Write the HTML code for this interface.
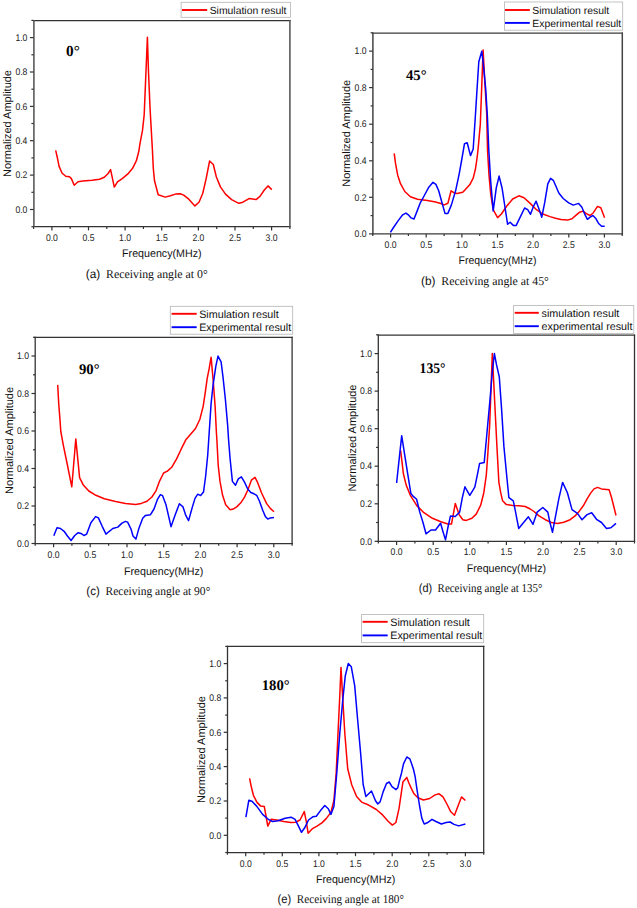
<!DOCTYPE html>
<html><head><meta charset="utf-8"><style>
html,body{margin:0;padding:0;background:#fff;}
body{width:637px;height:908px;overflow:hidden;position:relative;}
svg{position:absolute;left:0;top:0;text-rendering:geometricPrecision;}
.tk{font-family:"Liberation Sans", sans-serif;font-size:9.7px;fill:#222;}
.at{font-family:"Liberation Sans", sans-serif;font-size:11px;fill:#111;}
.lg{font-family:"Liberation Sans", sans-serif;font-size:10.4px;fill:#111;}
.ann{font-family:"Liberation Serif", serif;font-size:14.7px;font-weight:bold;fill:#000;}
.cp{font-family:"Liberation Serif", serif;font-size:12px;fill:#111;}
.cps{font-family:"Liberation Sans", sans-serif;font-size:12px;}
</style></head><body>
<svg width="637" height="908" viewBox="0 0 637 908">
<g>
<polyline points="55.7,150.4 57.2,157 59.1,166.4 62,173 65.7,176.2 69.5,176.7 71.4,178.6 74.2,185.2 78,181.8 82.7,181.1 92.1,180.3 99.6,179.2 104.3,177.3 108.1,173.5 110.6,169.6 114.3,187.1 117.5,181.8 122.2,178.6 127.9,173.9 132.6,168.3 136.4,160.7 138.8,151.3 140.1,142.8 142.5,130.4 144.2,114.6 147.4,37.3 148.4,69.6 150.1,109.3 152.4,149.6 153.3,168.3 154.5,180.8 158.2,194.7 165.3,197.1 170.4,195.7 175.5,194.1 180.2,193.7 183.7,195.1 188.8,199.2 194.9,205.9 199,202.2 202.7,193.5 206.1,178.8 209.6,161 213.3,164.5 216.3,176.7 220.4,186.9 225.5,194.1 231.6,199.6 238.8,203.3 242.9,202.2 249,198.6 256.1,199.6 260.2,196.1 264.3,190 268,185.9 271.8,189.6" fill="none" stroke="#ff0000" stroke-width="1.5" stroke-linejoin="round" stroke-linecap="butt"/>
<line x1="33.1" y1="20.5" x2="290.7" y2="20.5" stroke="#333333" stroke-width="1.25"/>
<line x1="33.1" y1="226.5" x2="290.7" y2="226.5" stroke="#333333" stroke-width="1.25"/>
<line x1="33.9" y1="19.9" x2="33.9" y2="227.1" stroke="#5a5a5a" stroke-width="1.6"/>
<line x1="289.9" y1="19.9" x2="289.9" y2="227.1" stroke="#5a5a5a" stroke-width="1.6"/>
<line x1="33.6" y1="226.7" x2="33.6" y2="228.9" stroke="#333333" stroke-width="1.2"/>
<line x1="51.9" y1="226.7" x2="51.9" y2="230.4" stroke="#333333" stroke-width="1.2"/>
<text transform="translate(51.9,240.7) scale(0.89,1)" text-anchor="middle" class="tk">0.0</text>
<line x1="70.2" y1="226.7" x2="70.2" y2="228.9" stroke="#333333" stroke-width="1.2"/>
<line x1="88.5" y1="226.7" x2="88.5" y2="230.4" stroke="#333333" stroke-width="1.2"/>
<text transform="translate(88.5,240.7) scale(0.89,1)" text-anchor="middle" class="tk">0.5</text>
<line x1="106.8" y1="226.7" x2="106.8" y2="228.9" stroke="#333333" stroke-width="1.2"/>
<line x1="125.1" y1="226.7" x2="125.1" y2="230.4" stroke="#333333" stroke-width="1.2"/>
<text transform="translate(125.1,240.7) scale(0.89,1)" text-anchor="middle" class="tk">1.0</text>
<line x1="143.4" y1="226.7" x2="143.4" y2="228.9" stroke="#333333" stroke-width="1.2"/>
<line x1="161.7" y1="226.7" x2="161.7" y2="230.4" stroke="#333333" stroke-width="1.2"/>
<text transform="translate(161.7,240.7) scale(0.89,1)" text-anchor="middle" class="tk">1.5</text>
<line x1="180.1" y1="226.7" x2="180.1" y2="228.9" stroke="#333333" stroke-width="1.2"/>
<line x1="198.4" y1="226.7" x2="198.4" y2="230.4" stroke="#333333" stroke-width="1.2"/>
<text transform="translate(198.4,240.7) scale(0.89,1)" text-anchor="middle" class="tk">2.0</text>
<line x1="216.7" y1="226.7" x2="216.7" y2="228.9" stroke="#333333" stroke-width="1.2"/>
<line x1="235" y1="226.7" x2="235" y2="230.4" stroke="#333333" stroke-width="1.2"/>
<text transform="translate(235,240.7) scale(0.89,1)" text-anchor="middle" class="tk">2.5</text>
<line x1="253.3" y1="226.7" x2="253.3" y2="228.9" stroke="#333333" stroke-width="1.2"/>
<line x1="271.6" y1="226.7" x2="271.6" y2="230.4" stroke="#333333" stroke-width="1.2"/>
<text transform="translate(271.6,240.7) scale(0.89,1)" text-anchor="middle" class="tk">3.0</text>
<line x1="289.9" y1="226.7" x2="289.9" y2="228.9" stroke="#333333" stroke-width="1.2"/>
<line x1="33.6" y1="226.7" x2="31.4" y2="226.7" stroke="#333333" stroke-width="1.2"/>
<line x1="33.6" y1="209.5" x2="29.9" y2="209.5" stroke="#333333" stroke-width="1.2"/>
<text transform="translate(27.4,212.7) scale(0.89,1)" text-anchor="end" class="tk">0.0</text>
<line x1="33.6" y1="192.3" x2="31.4" y2="192.3" stroke="#333333" stroke-width="1.2"/>
<line x1="33.6" y1="175.1" x2="29.9" y2="175.1" stroke="#333333" stroke-width="1.2"/>
<text transform="translate(27.4,178.3) scale(0.89,1)" text-anchor="end" class="tk">0.2</text>
<line x1="33.6" y1="157.9" x2="31.4" y2="157.9" stroke="#333333" stroke-width="1.2"/>
<line x1="33.6" y1="140.7" x2="29.9" y2="140.7" stroke="#333333" stroke-width="1.2"/>
<text transform="translate(27.4,143.9) scale(0.89,1)" text-anchor="end" class="tk">0.4</text>
<line x1="33.6" y1="123.5" x2="31.4" y2="123.5" stroke="#333333" stroke-width="1.2"/>
<line x1="33.6" y1="106.4" x2="29.9" y2="106.4" stroke="#333333" stroke-width="1.2"/>
<text transform="translate(27.4,109.6) scale(0.89,1)" text-anchor="end" class="tk">0.6</text>
<line x1="33.6" y1="89.2" x2="31.4" y2="89.2" stroke="#333333" stroke-width="1.2"/>
<line x1="33.6" y1="72" x2="29.9" y2="72" stroke="#333333" stroke-width="1.2"/>
<text transform="translate(27.4,75.2) scale(0.89,1)" text-anchor="end" class="tk">0.8</text>
<line x1="33.6" y1="54.8" x2="31.4" y2="54.8" stroke="#333333" stroke-width="1.2"/>
<line x1="33.6" y1="37.6" x2="29.9" y2="37.6" stroke="#333333" stroke-width="1.2"/>
<text transform="translate(27.4,40.8) scale(0.89,1)" text-anchor="end" class="tk">1.0</text>
<line x1="33.6" y1="20.4" x2="31.4" y2="20.4" stroke="#333333" stroke-width="1.2"/>
<text transform="translate(11.1,123.5) rotate(-90)" text-anchor="middle" class="at">Normalized Amplitude</text>
<text transform="translate(161.8,257.1) scale(0.97,1)" text-anchor="middle" class="at">Frequency(MHz)</text>
<text transform="translate(66,56.2) scale(1,1)" class="ann" style="font-size:15.3px">0°</text>
<rect x="181.1" y="2.3" width="109.3" height="15" fill="#fff" stroke="#b4b4b4" stroke-width="0.8"/>
<line x1="182" y1="10" x2="207.2" y2="10" stroke="#ff0000" stroke-width="1.9"/>
<text x="209.7" y="13.7" class="lg" style="font-size:10.4px">Simulation result</text>
<text transform="translate(85.7,278.1) scale(0.985,1)" class="cp"><tspan class="cps">(a)</tspan><tspan dx="6">Receiving angle at 0°</tspan></text>
</g>
<g>
<polyline points="394.2,153.3 395.6,163.9 397.7,175.2 400.5,183.7 404.8,191.5 410.4,196.7 417.5,199.2 427.4,200.6 434.4,201.8 440.1,203.2 444.3,204.9 447.9,203.2 451.1,190.8 454.2,192.9 457.1,193.6 462.7,192.2 465.3,189.6 469.7,184.8 473.2,178.1 475.4,169.3 476.7,160.5 477.6,153.5 478.5,144.7 479.4,134.1 480.3,124.4 481.2,101 483.1,49.9 484.7,79.6 486.7,114 487.5,150 489,175.1 490.7,194 493.2,209.7 497.6,217.6 501.4,214 506.4,206.5 512.7,199 518.9,195.8 524,197.7 530.2,203.4 536.5,209.7 542.8,214 550,216.6 555.5,218.2 561,219.6 567.6,220.1 572,218.8 576.4,214.9 579.7,212.2 583,211.1 586.3,213.6 590.1,215.5 593.4,212.7 597.5,206.4 600.8,207.8 604.6,217.7" fill="none" stroke="#ff0000" stroke-width="1.5" stroke-linejoin="round" stroke-linecap="butt"/>
<polyline points="390.4,232.4 393.5,227.5 398.4,220.4 402.7,214.8 405.9,213.1 408.3,214.8 411.1,217.9 414,219 416.8,211.9 420.3,202.8 424.6,195 428.8,187.2 433,182.3 435.9,184.4 438.7,190.8 442.2,203.5 445,213.4 447.9,213.4 451.4,204.9 455.6,190.8 459.2,173.8 462.2,157 464.5,143.7 467.2,142.8 470.5,155.6 473.2,149 475.5,114 476.8,92.9 478.8,61.8 481.8,51.2 483.4,65.1 485.7,88.9 487.4,116.6 488.8,150 490.7,181.4 493.2,210.9 496.3,187.7 499.1,176.1 502,187.7 504.5,204 507.6,224.3 510.1,222.2 513.3,225.4 516.2,225.4 520.2,217.2 524.6,208 527.7,209.7 530.5,214.3 533.4,206.5 536.1,201.2 539,209 541.8,217.2 544.7,202.7 547.8,183.9 550.6,178.3 553.3,180.3 555.5,185.3 558.8,193 563.2,198.5 568.7,202.9 573.3,205.1 578.6,203.4 581.9,207.3 584.6,213.8 587.4,219.3 590.1,217.1 592.9,215.5 595.6,218.2 598.4,223.2 601.6,226.2 604.7,226.2" fill="none" stroke="#0000ff" stroke-width="1.5" stroke-linejoin="round" stroke-linecap="butt"/>
<line x1="372.1" y1="33.1" x2="623" y2="33.1" stroke="#3a3a3a" stroke-width="1.25"/>
<line x1="372.1" y1="233.9" x2="623" y2="233.9" stroke="#3a3a3a" stroke-width="1.25"/>
<line x1="372.9" y1="32.5" x2="372.9" y2="234.5" stroke="#444" stroke-width="1.5"/>
<line x1="622.3" y1="32.5" x2="622.3" y2="234.5" stroke="#444" stroke-width="1.5"/>
<line x1="372.8" y1="233.9" x2="372.8" y2="236.1" stroke="#333333" stroke-width="1.2"/>
<line x1="390.6" y1="233.9" x2="390.6" y2="237.6" stroke="#333333" stroke-width="1.2"/>
<text transform="translate(390.6,247.9) scale(0.89,1)" text-anchor="middle" class="tk">0.0</text>
<line x1="408.4" y1="233.9" x2="408.4" y2="236.1" stroke="#333333" stroke-width="1.2"/>
<line x1="426.2" y1="233.9" x2="426.2" y2="237.6" stroke="#333333" stroke-width="1.2"/>
<text transform="translate(426.2,247.9) scale(0.89,1)" text-anchor="middle" class="tk">0.5</text>
<line x1="444.1" y1="233.9" x2="444.1" y2="236.1" stroke="#333333" stroke-width="1.2"/>
<line x1="461.9" y1="233.9" x2="461.9" y2="237.6" stroke="#333333" stroke-width="1.2"/>
<text transform="translate(461.9,247.9) scale(0.89,1)" text-anchor="middle" class="tk">1.0</text>
<line x1="479.7" y1="233.9" x2="479.7" y2="236.1" stroke="#333333" stroke-width="1.2"/>
<line x1="497.5" y1="233.9" x2="497.5" y2="237.6" stroke="#333333" stroke-width="1.2"/>
<text transform="translate(497.5,247.9) scale(0.89,1)" text-anchor="middle" class="tk">1.5</text>
<line x1="515.3" y1="233.9" x2="515.3" y2="236.1" stroke="#333333" stroke-width="1.2"/>
<line x1="533.1" y1="233.9" x2="533.1" y2="237.6" stroke="#333333" stroke-width="1.2"/>
<text transform="translate(533.1,247.9) scale(0.89,1)" text-anchor="middle" class="tk">2.0</text>
<line x1="550.9" y1="233.9" x2="550.9" y2="236.1" stroke="#333333" stroke-width="1.2"/>
<line x1="568.8" y1="233.9" x2="568.8" y2="237.6" stroke="#333333" stroke-width="1.2"/>
<text transform="translate(568.8,247.9) scale(0.89,1)" text-anchor="middle" class="tk">2.5</text>
<line x1="586.6" y1="233.9" x2="586.6" y2="236.1" stroke="#333333" stroke-width="1.2"/>
<line x1="604.4" y1="233.9" x2="604.4" y2="237.6" stroke="#333333" stroke-width="1.2"/>
<text transform="translate(604.4,247.9) scale(0.89,1)" text-anchor="middle" class="tk">3.0</text>
<line x1="622.2" y1="233.9" x2="622.2" y2="236.1" stroke="#333333" stroke-width="1.2"/>
<line x1="372.8" y1="233.9" x2="369.1" y2="233.9" stroke="#333333" stroke-width="1.2"/>
<text transform="translate(366.6,237.1) scale(0.89,1)" text-anchor="end" class="tk">0.0</text>
<line x1="372.8" y1="215.6" x2="370.6" y2="215.6" stroke="#333333" stroke-width="1.2"/>
<line x1="372.8" y1="197.3" x2="369.1" y2="197.3" stroke="#333333" stroke-width="1.2"/>
<text transform="translate(366.6,200.5) scale(0.89,1)" text-anchor="end" class="tk">0.2</text>
<line x1="372.8" y1="179.1" x2="370.6" y2="179.1" stroke="#333333" stroke-width="1.2"/>
<line x1="372.8" y1="160.8" x2="369.1" y2="160.8" stroke="#333333" stroke-width="1.2"/>
<text transform="translate(366.6,164) scale(0.89,1)" text-anchor="end" class="tk">0.4</text>
<line x1="372.8" y1="142.5" x2="370.6" y2="142.5" stroke="#333333" stroke-width="1.2"/>
<line x1="372.8" y1="124.2" x2="369.1" y2="124.2" stroke="#333333" stroke-width="1.2"/>
<text transform="translate(366.6,127.4) scale(0.89,1)" text-anchor="end" class="tk">0.6</text>
<line x1="372.8" y1="105.9" x2="370.6" y2="105.9" stroke="#333333" stroke-width="1.2"/>
<line x1="372.8" y1="87.6" x2="369.1" y2="87.6" stroke="#333333" stroke-width="1.2"/>
<text transform="translate(366.6,90.8) scale(0.89,1)" text-anchor="end" class="tk">0.8</text>
<line x1="372.8" y1="69.4" x2="370.6" y2="69.4" stroke="#333333" stroke-width="1.2"/>
<line x1="372.8" y1="51.1" x2="369.1" y2="51.1" stroke="#333333" stroke-width="1.2"/>
<text transform="translate(366.6,54.3) scale(0.89,1)" text-anchor="end" class="tk">1.0</text>
<line x1="372.8" y1="32.8" x2="370.6" y2="32.8" stroke="#333333" stroke-width="1.2"/>
<text transform="translate(350.3,133.3) rotate(-90)" text-anchor="middle" class="at">Normalized Amplitude</text>
<text transform="translate(497.5,263.6) scale(0.95,1)" text-anchor="middle" class="at">Frequency(MHz)</text>
<text transform="translate(406,79.7) scale(1,1)" class="ann" style="font-size:14.7px">45°</text>
<rect x="504.4" y="2" width="118.3" height="28.2" fill="#fff" stroke="#b4b4b4" stroke-width="0.8"/>
<line x1="505" y1="10" x2="529.8" y2="10" stroke="#ff0000" stroke-width="1.9"/>
<text x="532.3" y="13.7" class="lg" style="font-size:10.4px">Simulation result</text>
<line x1="505" y1="22.9" x2="529.8" y2="22.9" stroke="#0000ff" stroke-width="1.9"/>
<text x="532.3" y="26.6" class="lg" style="font-size:10.4px">Experimental result</text>
<text transform="translate(421,284.5) scale(0.985,1)" class="cp"><tspan class="cps">(b)</tspan><tspan dx="6">Receiving angle at 45°</tspan></text>
</g>
<g>
<polyline points="57.7,384.9 58.7,403.3 59.8,417.4 60.8,431.5 63.4,445.6 67.2,464 71.8,486.8 75.8,438.9 79.6,477.6 83.1,484.7 88.8,491 95.9,495.3 104.3,498.8 115.6,501.6 125.5,503.5 135.7,504.5 141.3,503.4 147,501.2 151.9,497 156.1,490.6 159.7,480.8 163.6,473 167.4,471.1 171.7,467.3 176.6,458.9 180.9,449.7 185.8,439.8 190.8,434.1 195.5,428.5 199.9,419.3 203.2,406.1 205.2,392.9 207.2,378.3 209.2,368.4 211.1,357.2 213.1,379.6 215.1,406.1 216.4,432.5 216.9,440 218.2,465.1 220,481.4 222.6,495.3 225.7,504.7 230.1,509.7 233.2,509.1 237,506.6 240.8,502.8 244.5,497.1 247.7,490.2 251.4,480.2 255,477.4 257.7,482.7 261.5,492.7 266.5,503.4 270.3,508.4 274,511.8" fill="none" stroke="#ff0000" stroke-width="1.5" stroke-linejoin="round" stroke-linecap="butt"/>
<polyline points="53.8,535.8 57,527.8 60.5,528.5 64.1,531.3 67.6,536.2 71.1,540.5 74.7,535.5 78.2,532.7 81,533.4 83.9,535.5 86.7,534.1 90.9,522.8 95.6,516.6 98.4,517.9 102.2,526.3 106,534.1 109.3,531.3 112.8,528.5 117.8,527.1 122,523.1 125.5,521.4 127.6,522.1 131,529 133,536 135.9,539.1 139.2,527.4 142.7,518.2 145.5,515.4 150.5,514.7 154,509 157.6,499.1 160.4,494.6 162.5,495.6 166,504.8 171,526.7 175.2,514.7 179.4,503.8 183,506.9 185.8,515.4 188.6,520.6 192.2,507.6 195,498.4 197.8,494.2 200.6,495.6 203.5,492.1 205.6,476.5 207.7,455.3 209.2,432.5 211.1,403.4 213.1,384.9 215.8,366.4 218,356.1 221.1,361.8 223,377 225.4,399.5 227.7,425.9 228.6,440 230.1,458.8 232.4,481.4 235.5,485.2 238.3,478.9 241.4,476.8 244.5,482.1 247.7,489 250.8,492.5 254,493.8 256.7,495.3 259.6,501.5 262.7,510.3 265.3,516.4 267.8,519.1 270.3,517.9 274,517.5" fill="none" stroke="#0000ff" stroke-width="1.5" stroke-linejoin="round" stroke-linecap="butt"/>
<line x1="34.6" y1="337.3" x2="292.8" y2="337.3" stroke="#333333" stroke-width="1.25"/>
<line x1="34.6" y1="543.5" x2="292.8" y2="543.5" stroke="#333333" stroke-width="1.25"/>
<line x1="35.2" y1="336.7" x2="35.2" y2="544.1" stroke="#333333" stroke-width="1.3"/>
<line x1="292.1" y1="336.7" x2="292.1" y2="544.1" stroke="#333333" stroke-width="1.3"/>
<line x1="35.2" y1="543.5" x2="35.2" y2="545.7" stroke="#333333" stroke-width="1.2"/>
<line x1="53.6" y1="543.5" x2="53.6" y2="547.2" stroke="#333333" stroke-width="1.2"/>
<text transform="translate(53.6,557.5) scale(0.89,1)" text-anchor="middle" class="tk">0.0</text>
<line x1="71.9" y1="543.5" x2="71.9" y2="545.7" stroke="#333333" stroke-width="1.2"/>
<line x1="90.2" y1="543.5" x2="90.2" y2="547.2" stroke="#333333" stroke-width="1.2"/>
<text transform="translate(90.2,557.5) scale(0.89,1)" text-anchor="middle" class="tk">0.5</text>
<line x1="108.6" y1="543.5" x2="108.6" y2="545.7" stroke="#333333" stroke-width="1.2"/>
<line x1="127" y1="543.5" x2="127" y2="547.2" stroke="#333333" stroke-width="1.2"/>
<text transform="translate(127,557.5) scale(0.89,1)" text-anchor="middle" class="tk">1.0</text>
<line x1="145.3" y1="543.5" x2="145.3" y2="545.7" stroke="#333333" stroke-width="1.2"/>
<line x1="163.7" y1="543.5" x2="163.7" y2="547.2" stroke="#333333" stroke-width="1.2"/>
<text transform="translate(163.7,557.5) scale(0.89,1)" text-anchor="middle" class="tk">1.5</text>
<line x1="182" y1="543.5" x2="182" y2="545.7" stroke="#333333" stroke-width="1.2"/>
<line x1="200.4" y1="543.5" x2="200.4" y2="547.2" stroke="#333333" stroke-width="1.2"/>
<text transform="translate(200.4,557.5) scale(0.89,1)" text-anchor="middle" class="tk">2.0</text>
<line x1="218.7" y1="543.5" x2="218.7" y2="545.7" stroke="#333333" stroke-width="1.2"/>
<line x1="237.1" y1="543.5" x2="237.1" y2="547.2" stroke="#333333" stroke-width="1.2"/>
<text transform="translate(237.1,557.5) scale(0.89,1)" text-anchor="middle" class="tk">2.5</text>
<line x1="255.4" y1="543.5" x2="255.4" y2="545.7" stroke="#333333" stroke-width="1.2"/>
<line x1="273.8" y1="543.5" x2="273.8" y2="547.2" stroke="#333333" stroke-width="1.2"/>
<text transform="translate(273.8,557.5) scale(0.89,1)" text-anchor="middle" class="tk">3.0</text>
<line x1="292.1" y1="543.5" x2="292.1" y2="545.7" stroke="#333333" stroke-width="1.2"/>
<line x1="35.2" y1="543.5" x2="31.5" y2="543.5" stroke="#333333" stroke-width="1.2"/>
<text transform="translate(29,546.7) scale(0.89,1)" text-anchor="end" class="tk">0.0</text>
<line x1="35.2" y1="524.8" x2="33" y2="524.8" stroke="#333333" stroke-width="1.2"/>
<line x1="35.2" y1="506" x2="31.5" y2="506" stroke="#333333" stroke-width="1.2"/>
<text transform="translate(29,509.2) scale(0.89,1)" text-anchor="end" class="tk">0.2</text>
<line x1="35.2" y1="487.3" x2="33" y2="487.3" stroke="#333333" stroke-width="1.2"/>
<line x1="35.2" y1="468.5" x2="31.5" y2="468.5" stroke="#333333" stroke-width="1.2"/>
<text transform="translate(29,471.7) scale(0.89,1)" text-anchor="end" class="tk">0.4</text>
<line x1="35.2" y1="449.8" x2="33" y2="449.8" stroke="#333333" stroke-width="1.2"/>
<line x1="35.2" y1="431" x2="31.5" y2="431" stroke="#333333" stroke-width="1.2"/>
<text transform="translate(29,434.2) scale(0.89,1)" text-anchor="end" class="tk">0.6</text>
<line x1="35.2" y1="412.3" x2="33" y2="412.3" stroke="#333333" stroke-width="1.2"/>
<line x1="35.2" y1="393.5" x2="31.5" y2="393.5" stroke="#333333" stroke-width="1.2"/>
<text transform="translate(29,396.7) scale(0.89,1)" text-anchor="end" class="tk">0.8</text>
<line x1="35.2" y1="374.8" x2="33" y2="374.8" stroke="#333333" stroke-width="1.2"/>
<line x1="35.2" y1="356" x2="31.5" y2="356" stroke="#333333" stroke-width="1.2"/>
<text transform="translate(29,359.2) scale(0.89,1)" text-anchor="end" class="tk">1.0</text>
<line x1="35.2" y1="337.3" x2="33" y2="337.3" stroke="#333333" stroke-width="1.2"/>
<text transform="translate(12.7,440.4) rotate(-90)" text-anchor="middle" class="at">Normalized Amplitude</text>
<text transform="translate(163.7,574.5) scale(0.97,1)" text-anchor="middle" class="at">Frequency(MHz)</text>
<text transform="translate(79,373.8) scale(1,1)" class="ann" style="font-size:14.7px">90°</text>
<rect x="170.3" y="306.3" width="122.4" height="27.9" fill="#fff" stroke="#b4b4b4" stroke-width="0.8"/>
<line x1="171.6" y1="313.8" x2="196.7" y2="313.8" stroke="#ff0000" stroke-width="1.9"/>
<text x="199.2" y="317.5" class="lg" style="font-size:10.75px">Simulation result</text>
<line x1="171.6" y1="327.2" x2="196.7" y2="327.2" stroke="#0000ff" stroke-width="1.9"/>
<text x="199.2" y="330.9" class="lg" style="font-size:10.75px">Experimental result</text>
<text transform="translate(86.3,595) scale(0.96,1)" class="cp"><tspan class="cps">(c)</tspan><tspan dx="6">Receiving angle at 90°</tspan></text>
</g>
<g>
<polyline points="400.6,450.5 402,461.8 403.4,473.8 406.2,485.1 410.5,495.7 416.8,505.6 423.9,512.7 432.4,518.3 440.9,521.8 447.9,524 451.5,524 455.3,503.5 459.2,514.8 462.8,519.7 466.3,520.4 471.9,518.3 476.2,514.1 480.7,505.2 483.8,492.7 486.3,475.1 487.7,455.7 489.7,424.8 492.3,353.6 494.7,401.7 497,448 498.9,482.6 500.7,492.7 502.6,500.8 506.4,504.6 512.7,505.5 519,505.8 525.2,506.5 530.3,509 534,511.5 539,515.9 545.3,519.7 551.3,522.5 557.6,523.4 563.8,522.2 570.1,519.7 575.1,515.9 579.5,510.9 583.3,505.8 587.1,498.9 590.8,492.9 594,488.9 597.5,487.4 601.5,488.9 606.5,489.4 609.1,489.8 611.6,497.7 614.1,507.7 616,515.5" fill="none" stroke="#ff0000" stroke-width="1.5" stroke-linejoin="round" stroke-linecap="butt"/>
<polyline points="396.6,483 401.7,435.7 404.1,451.2 407.7,473.8 410.9,493.6 413.3,496.4 416.6,499.2 419.7,511.9 423.2,523.2 426,533.8 431,530 435.5,530 440.6,523.2 443,531.7 445.5,539.9 447.9,527.5 450.5,515.9 455.3,516.5 459.7,511.9 462.3,497.8 464.9,486.8 469.8,495.3 474.8,487.2 477.3,475.1 479.6,463.4 484.2,462.6 487,432.5 490.1,398.6 492.4,370.9 494.4,353.6 496.5,364.7 499.3,377 501.6,409.4 503.9,446.4 507,478.8 508.9,497.7 513.3,500.8 515.2,510.2 518.7,528.4 523.4,522.8 528.4,516.8 533,524.3 537.2,512.1 542.8,507.5 547.8,512.1 550,522.8 552.5,532.2 555.7,515.3 558.8,498.9 562.6,482.4 567.4,492.7 572,509.6 577.4,513.4 582,519.7 587.1,514.6 591.7,512.7 596.5,519.3 601.5,522.5 606.5,528.4 610.9,527.8 616,523.4" fill="none" stroke="#0000ff" stroke-width="1.5" stroke-linejoin="round" stroke-linecap="butt"/>
<line x1="377.7" y1="335.2" x2="635.1" y2="335.2" stroke="#333333" stroke-width="1.25"/>
<line x1="377.7" y1="541.3" x2="635.1" y2="541.3" stroke="#333333" stroke-width="1.25"/>
<line x1="378.3" y1="334.6" x2="378.3" y2="541.9" stroke="#333333" stroke-width="1.3"/>
<line x1="634.5" y1="334.6" x2="634.5" y2="541.9" stroke="#333333" stroke-width="1.3"/>
<line x1="378.3" y1="541.3" x2="378.3" y2="543.5" stroke="#333333" stroke-width="1.2"/>
<line x1="396.6" y1="541.3" x2="396.6" y2="545" stroke="#333333" stroke-width="1.2"/>
<text transform="translate(396.6,555.3) scale(0.89,1)" text-anchor="middle" class="tk">0.0</text>
<line x1="414.9" y1="541.3" x2="414.9" y2="543.5" stroke="#333333" stroke-width="1.2"/>
<line x1="433.2" y1="541.3" x2="433.2" y2="545" stroke="#333333" stroke-width="1.2"/>
<text transform="translate(433.2,555.3) scale(0.89,1)" text-anchor="middle" class="tk">0.5</text>
<line x1="451.5" y1="541.3" x2="451.5" y2="543.5" stroke="#333333" stroke-width="1.2"/>
<line x1="469.8" y1="541.3" x2="469.8" y2="545" stroke="#333333" stroke-width="1.2"/>
<text transform="translate(469.8,555.3) scale(0.89,1)" text-anchor="middle" class="tk">1.0</text>
<line x1="488.1" y1="541.3" x2="488.1" y2="543.5" stroke="#333333" stroke-width="1.2"/>
<line x1="506.4" y1="541.3" x2="506.4" y2="545" stroke="#333333" stroke-width="1.2"/>
<text transform="translate(506.4,555.3) scale(0.89,1)" text-anchor="middle" class="tk">1.5</text>
<line x1="524.7" y1="541.3" x2="524.7" y2="543.5" stroke="#333333" stroke-width="1.2"/>
<line x1="543" y1="541.3" x2="543" y2="545" stroke="#333333" stroke-width="1.2"/>
<text transform="translate(543,555.3) scale(0.89,1)" text-anchor="middle" class="tk">2.0</text>
<line x1="561.3" y1="541.3" x2="561.3" y2="543.5" stroke="#333333" stroke-width="1.2"/>
<line x1="579.6" y1="541.3" x2="579.6" y2="545" stroke="#333333" stroke-width="1.2"/>
<text transform="translate(579.6,555.3) scale(0.89,1)" text-anchor="middle" class="tk">2.5</text>
<line x1="597.9" y1="541.3" x2="597.9" y2="543.5" stroke="#333333" stroke-width="1.2"/>
<line x1="616.2" y1="541.3" x2="616.2" y2="545" stroke="#333333" stroke-width="1.2"/>
<text transform="translate(616.2,555.3) scale(0.89,1)" text-anchor="middle" class="tk">3.0</text>
<line x1="634.5" y1="541.3" x2="634.5" y2="543.5" stroke="#333333" stroke-width="1.2"/>
<line x1="378.3" y1="541.3" x2="374.6" y2="541.3" stroke="#333333" stroke-width="1.2"/>
<text transform="translate(372.1,544.5) scale(0.89,1)" text-anchor="end" class="tk">0.0</text>
<line x1="378.3" y1="522.5" x2="376.1" y2="522.5" stroke="#333333" stroke-width="1.2"/>
<line x1="378.3" y1="503.8" x2="374.6" y2="503.8" stroke="#333333" stroke-width="1.2"/>
<text transform="translate(372.1,507) scale(0.89,1)" text-anchor="end" class="tk">0.2</text>
<line x1="378.3" y1="485" x2="376.1" y2="485" stroke="#333333" stroke-width="1.2"/>
<line x1="378.3" y1="466.2" x2="374.6" y2="466.2" stroke="#333333" stroke-width="1.2"/>
<text transform="translate(372.1,469.4) scale(0.89,1)" text-anchor="end" class="tk">0.4</text>
<line x1="378.3" y1="447.4" x2="376.1" y2="447.4" stroke="#333333" stroke-width="1.2"/>
<line x1="378.3" y1="428.7" x2="374.6" y2="428.7" stroke="#333333" stroke-width="1.2"/>
<text transform="translate(372.1,431.9) scale(0.89,1)" text-anchor="end" class="tk">0.6</text>
<line x1="378.3" y1="409.9" x2="376.1" y2="409.9" stroke="#333333" stroke-width="1.2"/>
<line x1="378.3" y1="391.1" x2="374.6" y2="391.1" stroke="#333333" stroke-width="1.2"/>
<text transform="translate(372.1,394.3) scale(0.89,1)" text-anchor="end" class="tk">0.8</text>
<line x1="378.3" y1="372.3" x2="376.1" y2="372.3" stroke="#333333" stroke-width="1.2"/>
<line x1="378.3" y1="353.6" x2="374.6" y2="353.6" stroke="#333333" stroke-width="1.2"/>
<text transform="translate(372.1,356.8) scale(0.89,1)" text-anchor="end" class="tk">1.0</text>
<line x1="378.3" y1="334.8" x2="376.1" y2="334.8" stroke="#333333" stroke-width="1.2"/>
<text transform="translate(355.8,438) rotate(-90)" text-anchor="middle" class="at">Normalized Amplitude</text>
<text transform="translate(506.4,571.5) scale(0.97,1)" text-anchor="middle" class="at">Frequency(MHz)</text>
<text transform="translate(419.6,373.3) scale(0.93,1)" class="ann" style="font-size:14.7px">135°</text>
<rect x="513.4" y="305.6" width="120.4" height="27.8" fill="#fff" stroke="#b4b4b4" stroke-width="0.8"/>
<line x1="514.7" y1="312.8" x2="538.8" y2="312.8" stroke="#ff0000" stroke-width="1.9"/>
<text x="541.6" y="316.5" class="lg" style="font-size:10.75px">simulation result</text>
<line x1="514.7" y1="326.2" x2="538.8" y2="326.2" stroke="#0000ff" stroke-width="1.9"/>
<text x="541.6" y="329.9" class="lg" style="font-size:10.75px">experimental result</text>
<text transform="translate(418.8,592.4) scale(0.91,1)" class="cp"><tspan class="cps">(d)</tspan><tspan dx="6">Receiving angle at 135°</tspan></text>
</g>
<g>
<polyline points="249.6,778.4 251.3,786.8 253.4,795.3 257,802.4 260.5,805.9 264.3,806.6 266.1,816.5 267.8,826.1 271.1,819.3 276.7,820 283.8,821.5 290.9,822.6 295.8,822.2 300,820 304.3,811.6 306.4,822.2 308.1,833.2 312.1,828.9 317,826.1 321.9,822.9 326.2,818.6 330.9,812.4 333.9,800.5 336.2,772.8 338.2,729.2 339.8,695.5 341,667.4 342.8,699.5 344.8,733.2 347.7,768.8 351.7,784.7 356.6,796.5 361.6,802.1 367.5,804.5 370,805.8 376.3,809.5 382.6,814.9 388.1,821.2 392.3,825.1 395.9,822.5 399,808.7 402.9,782.1 406.8,777.4 408.8,782.7 411.3,788.4 414,793.8 417.9,797.7 423.4,800 429.7,798.5 435.1,794.9 439.1,793.8 443,796.9 446.9,804 450.8,811.8 454.5,815.3 457.9,806.3 461.5,796.9 465.4,800.5" fill="none" stroke="#ff0000" stroke-width="1.5" stroke-linejoin="round" stroke-linecap="butt"/>
<polyline points="245.9,817.2 248.8,800.3 252,801.3 257,806.6 262.6,814.4 268.3,819.3 272.5,821.5 278.1,820.8 285.2,818.2 291.1,817.2 295.1,819.3 298.6,826.4 301.5,832.3 304.7,827.8 308.5,820 312.8,816.8 316.3,816.2 320.5,810.6 324.8,805.5 328.3,808.7 330.9,814.4 333.9,806.4 336.8,772.8 339.8,733.2 342.8,699.5 345.3,675.7 348.3,663.5 351.3,666.8 354.7,685.6 357.6,719.3 360.6,753 363.2,784.7 365.9,796.5 371.5,791 375.5,800.8 377.8,804 380.2,801.6 383.3,791.4 386.5,783.5 389.2,782 392,786.7 396,789.6 397.8,787.7 399.4,780.8 401.6,772.7 403.5,763.9 406.8,757 409.8,758.8 411.7,763.9 413.5,769.5 415.1,776.4 417,789.6 419.5,805.5 421.8,818.1 424.2,824 427.3,822.8 432,819.3 435.9,821.5 441.4,824 446.1,822.5 450.1,822 454,824.4 458.7,825.9 465.4,824" fill="none" stroke="#0000ff" stroke-width="1.5" stroke-linejoin="round" stroke-linecap="butt"/>
<line x1="226.8" y1="646.4" x2="484.3" y2="646.4" stroke="#333333" stroke-width="1.25"/>
<line x1="226.8" y1="852.5" x2="484.3" y2="852.5" stroke="#333333" stroke-width="1.25"/>
<line x1="227.5" y1="645.8" x2="227.5" y2="853.1" stroke="#333333" stroke-width="1.3"/>
<line x1="483.7" y1="645.8" x2="483.7" y2="853.1" stroke="#333333" stroke-width="1.3"/>
<line x1="227.4" y1="852.5" x2="227.4" y2="854.7" stroke="#333333" stroke-width="1.2"/>
<line x1="245.7" y1="852.5" x2="245.7" y2="856.2" stroke="#333333" stroke-width="1.2"/>
<text transform="translate(245.7,866.5) scale(0.89,1)" text-anchor="middle" class="tk">0.0</text>
<line x1="264" y1="852.5" x2="264" y2="854.7" stroke="#333333" stroke-width="1.2"/>
<line x1="282.3" y1="852.5" x2="282.3" y2="856.2" stroke="#333333" stroke-width="1.2"/>
<text transform="translate(282.3,866.5) scale(0.89,1)" text-anchor="middle" class="tk">0.5</text>
<line x1="300.6" y1="852.5" x2="300.6" y2="854.7" stroke="#333333" stroke-width="1.2"/>
<line x1="318.9" y1="852.5" x2="318.9" y2="856.2" stroke="#333333" stroke-width="1.2"/>
<text transform="translate(318.9,866.5) scale(0.89,1)" text-anchor="middle" class="tk">1.0</text>
<line x1="337.2" y1="852.5" x2="337.2" y2="854.7" stroke="#333333" stroke-width="1.2"/>
<line x1="355.5" y1="852.5" x2="355.5" y2="856.2" stroke="#333333" stroke-width="1.2"/>
<text transform="translate(355.5,866.5) scale(0.89,1)" text-anchor="middle" class="tk">1.5</text>
<line x1="373.9" y1="852.5" x2="373.9" y2="854.7" stroke="#333333" stroke-width="1.2"/>
<line x1="392.2" y1="852.5" x2="392.2" y2="856.2" stroke="#333333" stroke-width="1.2"/>
<text transform="translate(392.2,866.5) scale(0.89,1)" text-anchor="middle" class="tk">2.0</text>
<line x1="410.5" y1="852.5" x2="410.5" y2="854.7" stroke="#333333" stroke-width="1.2"/>
<line x1="428.8" y1="852.5" x2="428.8" y2="856.2" stroke="#333333" stroke-width="1.2"/>
<text transform="translate(428.8,866.5) scale(0.89,1)" text-anchor="middle" class="tk">2.5</text>
<line x1="447.1" y1="852.5" x2="447.1" y2="854.7" stroke="#333333" stroke-width="1.2"/>
<line x1="465.4" y1="852.5" x2="465.4" y2="856.2" stroke="#333333" stroke-width="1.2"/>
<text transform="translate(465.4,866.5) scale(0.89,1)" text-anchor="middle" class="tk">3.0</text>
<line x1="483.7" y1="852.5" x2="483.7" y2="854.7" stroke="#333333" stroke-width="1.2"/>
<line x1="227.4" y1="852.5" x2="225.2" y2="852.5" stroke="#333333" stroke-width="1.2"/>
<line x1="227.4" y1="835.3" x2="223.7" y2="835.3" stroke="#333333" stroke-width="1.2"/>
<text transform="translate(221.2,838.5) scale(0.89,1)" text-anchor="end" class="tk">0.0</text>
<line x1="227.4" y1="818.1" x2="225.2" y2="818.1" stroke="#333333" stroke-width="1.2"/>
<line x1="227.4" y1="801" x2="223.7" y2="801" stroke="#333333" stroke-width="1.2"/>
<text transform="translate(221.2,804.2) scale(0.89,1)" text-anchor="end" class="tk">0.2</text>
<line x1="227.4" y1="783.8" x2="225.2" y2="783.8" stroke="#333333" stroke-width="1.2"/>
<line x1="227.4" y1="766.6" x2="223.7" y2="766.6" stroke="#333333" stroke-width="1.2"/>
<text transform="translate(221.2,769.8) scale(0.89,1)" text-anchor="end" class="tk">0.4</text>
<line x1="227.4" y1="749.5" x2="225.2" y2="749.5" stroke="#333333" stroke-width="1.2"/>
<line x1="227.4" y1="732.3" x2="223.7" y2="732.3" stroke="#333333" stroke-width="1.2"/>
<text transform="translate(221.2,735.5) scale(0.89,1)" text-anchor="end" class="tk">0.6</text>
<line x1="227.4" y1="715.1" x2="225.2" y2="715.1" stroke="#333333" stroke-width="1.2"/>
<line x1="227.4" y1="697.9" x2="223.7" y2="697.9" stroke="#333333" stroke-width="1.2"/>
<text transform="translate(221.2,701.1) scale(0.89,1)" text-anchor="end" class="tk">0.8</text>
<line x1="227.4" y1="680.8" x2="225.2" y2="680.8" stroke="#333333" stroke-width="1.2"/>
<line x1="227.4" y1="663.6" x2="223.7" y2="663.6" stroke="#333333" stroke-width="1.2"/>
<text transform="translate(221.2,666.8) scale(0.89,1)" text-anchor="end" class="tk">1.0</text>
<line x1="227.4" y1="646.4" x2="225.2" y2="646.4" stroke="#333333" stroke-width="1.2"/>
<text transform="translate(204.9,749.5) rotate(-90)" text-anchor="middle" class="at">Normalized Amplitude</text>
<text transform="translate(355.6,883) scale(0.97,1)" text-anchor="middle" class="at">Frequency(MHz)</text>
<text transform="translate(261.7,690.2) scale(1,1)" class="ann" style="font-size:14.7px">180°</text>
<rect x="361.6" y="614.5" width="122.1" height="28.2" fill="#fff" stroke="#b4b4b4" stroke-width="0.8"/>
<line x1="362.6" y1="621.8" x2="387.7" y2="621.8" stroke="#ff0000" stroke-width="1.9"/>
<text x="390.3" y="625.5" class="lg" style="font-size:10.75px">Simulation result</text>
<line x1="362.6" y1="635.4" x2="387.7" y2="635.4" stroke="#0000ff" stroke-width="1.9"/>
<text x="390.3" y="639.1" class="lg" style="font-size:10.75px">Experimental result</text>
<text transform="translate(277.6,902.9) scale(0.93,1)" class="cp"><tspan class="cps">(e)</tspan><tspan dx="6">Receiving angle at 180°</tspan></text>
</g>
</svg>
</body></html>
